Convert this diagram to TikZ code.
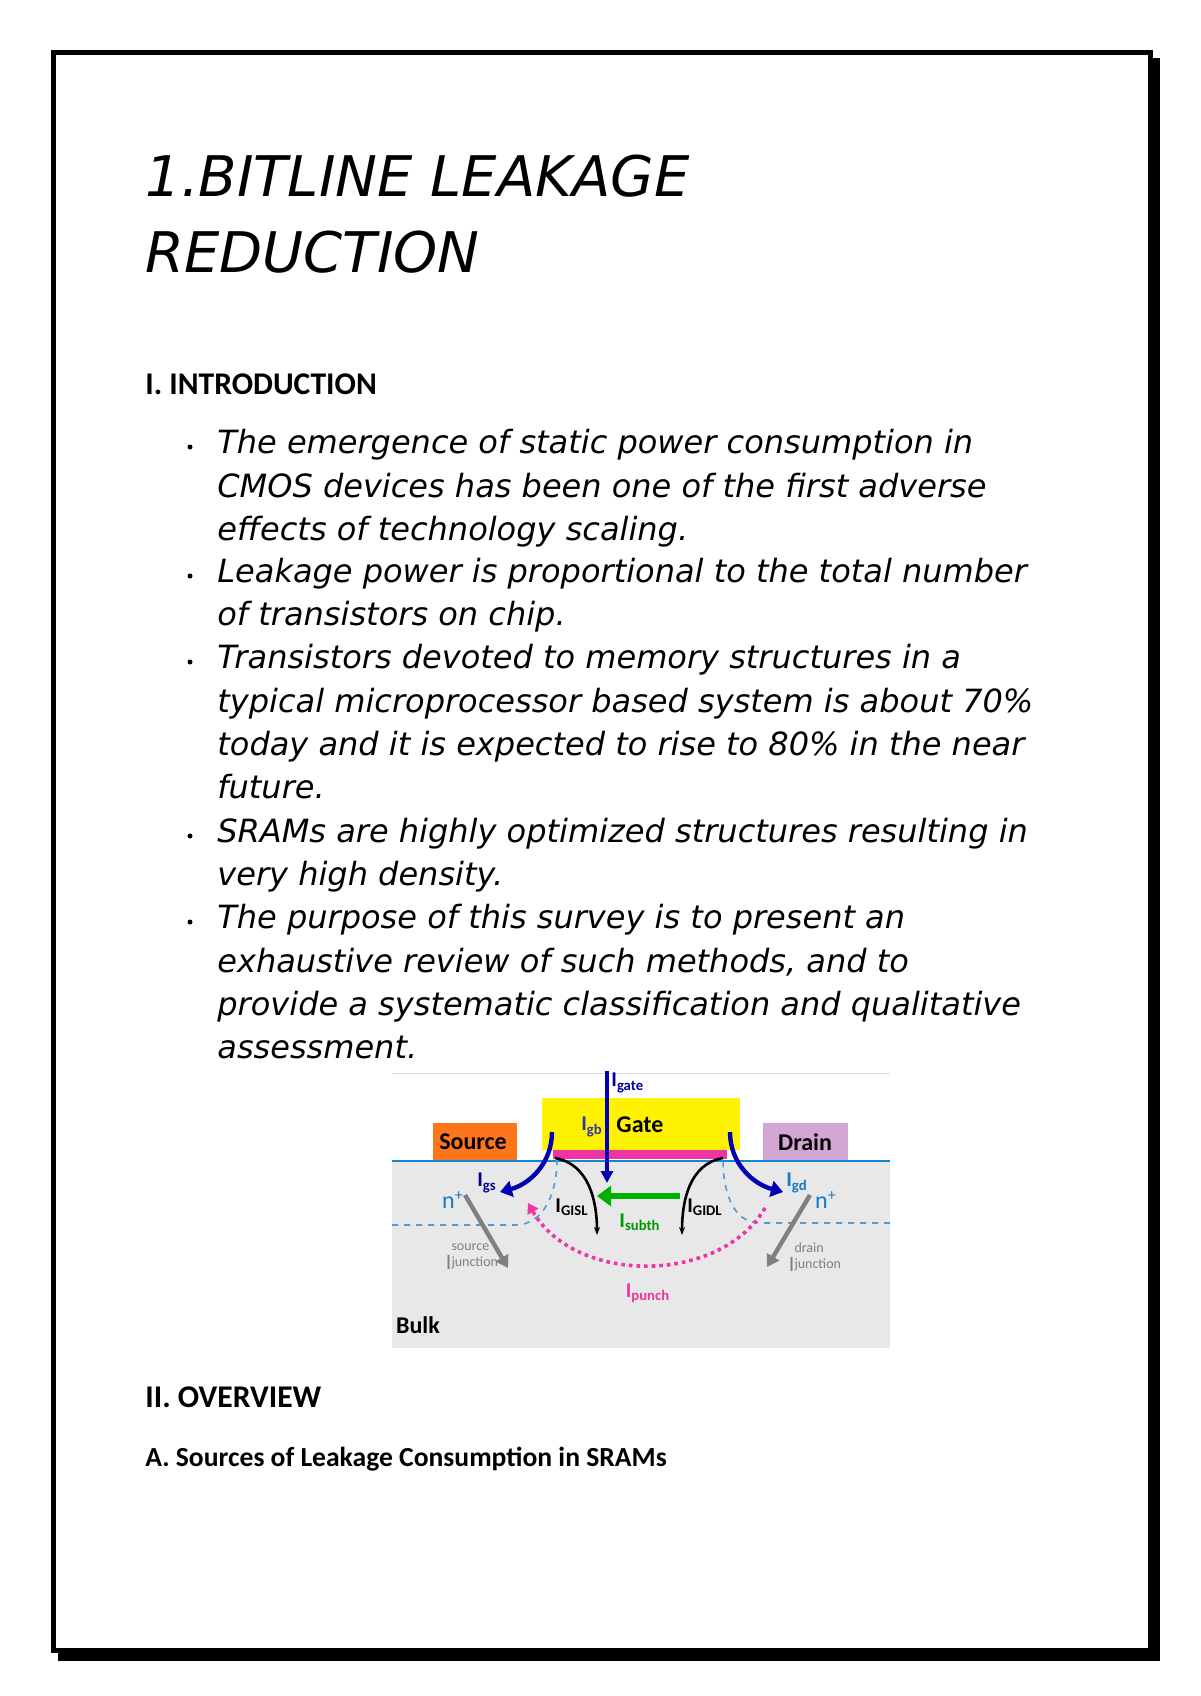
\documentclass[tikz,border=0pt]{standalone}
\usepackage{fontspec}
\setmainfont{DejaVu Sans}
\newfontfamily\calfont{Carlito}
\usetikzlibrary{arrows.meta}
\begin{document}
\begin{tikzpicture}[x=0.5pt,y=-0.5pt,
 body/.style={anchor=base west,inner sep=0,font=\fontsize{16}{18}\selectfont\itshape},
 head/.style={anchor=base west,inner sep=0,font=\calfont\fontsize{15.8}{17}\selectfont\bfseries},
 lab/.style={inner sep=0,font=\calfont\fontsize{10.5}{11}\selectfont\bfseries},
 cur/.style={line width=2.2pt,-{Triangle[length=6pt,width=8pt]}}]
\useasboundingbox (0,0) rectangle (1200,1696);
\fill[white] (0,0) rectangle (1200,1696);
% frame with shadow
\fill[black] (58,58) rectangle (1160,1661);
\fill[white] (53,53) rectangle (1150,1650);
\draw[line width=2.5pt] (53,53) rectangle (1150,1650);
% title
\node[anchor=base west,inner sep=0,font=\fontsize{28}{32}\selectfont\itshape] (t1) at (145,197) {1.BITLINE LEAKAGE};
\node[anchor=base west,inner sep=0,font=\fontsize{28}{32}\selectfont\itshape] (t2) at (145,272) {REDUCTION};
\node[head] (h1) at (145,394) {I. INTRODUCTION};
\foreach \y/\t in {443/The emergence of static power consumption in,487/CMOS devices has been one of the first adverse,530/effects of technology scaling.,572/Leakage power is proportional to the total number,615/of transistors on chip.,658/Transistors devoted to memory structures in a,702/typical microprocessor based system is about 70\%,745/today and it is expected to rise to 80\% in the near,788/future.,832/SRAMs are highly optimized structures resulting in,875/very high density.,918/The purpose of this survey is to present an,962/exhaustive review of such methods{,} and to,1005/provide a systematic classification and qualitative,1048/assessment.}
  \node[body] at (217,\y+10) {\t};
\foreach \y in {443,572,658,832,918}
  \fill (190,\y+4) circle (2.5);
\node[head] (h2) at (145,1407) {II. OVERVIEW};
\node[head,font=\calfont\fontsize{13.8}{14}\selectfont\bfseries] (h3) at (145,1466) {A. Sources of Leakage Consumption in SRAMs};
% figure
\draw[gray!30] (392,1073) -- (890,1073);
\fill[gray!18] (392,1161) rectangle (890,1348);
\fill[orange!80!red!90] (433,1123) rectangle (517,1160);
\fill[violet!35] (763,1123) rectangle (848,1160);
\fill[yellow] (542,1098) rectangle (740,1150);
\fill[magenta!80] (553,1150) rectangle (727,1159);
\draw[cyan!70!blue,line width=1.2pt] (392,1161) -- (890,1161);
\node[lab,font=\calfont\fontsize{12}{12}\selectfont\bfseries] (src) at (473,1142) {Source};
\node[lab,font=\calfont\fontsize{12}{12}\selectfont\bfseries] (drn) at (805,1142) {Drain};
\node[lab,font=\calfont\fontsize{12}{12}\selectfont\bfseries] (gt) at (640,1125) {Gate};
\node[lab,font=\calfont\fontsize{12}{12}\selectfont\bfseries] at (418,1325) {Bulk};
% dashed junction
\draw[cyan!60!blue!70,dashed,thick] (392,1225) -- (515,1225) to[out=0,in=270] (557,1160);
\draw[cyan!60!blue!70,dashed,thick] (890,1223) -- (760,1223) to[out=180,in=270] (723,1160);
% currents
\coordinate (gtop) at (607,1071);
\coordinate (gbot) at (607,1183);
\draw[blue!70!black,line width=1.6pt,-{Triangle[length=6pt,width=6pt]}] (gtop) -- (gbot);
\node[lab,anchor=west,text=blue!60!black] at (611,1083) {I\textsubscript{gate}};
\node[lab,text=blue!60!black!80] at (592,1127) {I\textsubscript{gb}};
\coordinate (gsS) at (552,1132); \coordinate (gsE) at (500,1192);
\draw[cur,blue!70!black] (gsS) to[out=270,in=15] (gsE);
\coordinate (gdS) at (730,1132); \coordinate (gdE) at (783,1192);
\draw[cur,blue!70!black] (gdS) to[out=270,in=165] (gdE);
\node[lab,text=blue!60!black] at (487,1183) {I\textsubscript{gs}};
\node[lab,text=cyan!60!blue] at (797,1183) {I\textsubscript{gd}};
\node[lab,text=cyan!60!blue,font=\calfont\fontsize{12}{12}\selectfont] at (453,1200) {n\textsuperscript{+}};
\node[lab,text=cyan!60!blue,font=\calfont\fontsize{12}{12}\selectfont] at (826,1200) {n\textsuperscript{+}};
\coordinate (isS) at (555,1158); \coordinate (isE) at (597,1235);
\draw[black,line width=1.3pt,-{Stealth[length=4pt]}] (isS) to[out=-10,in=90] (isE);
\coordinate (idS) at (723,1158); \coordinate (idE) at (682,1235);
\draw[black,line width=1.3pt,-{Stealth[length=4pt]}] (idS) to[out=190,in=90] (idE);
\node[lab] at (572,1207) {I\textsubscript{GISL}};
\node[lab] at (705,1207) {I\textsubscript{GIDL}};
\coordinate (sbS) at (680,1196); \coordinate (sbE) at (597,1196);
\draw[green!70!black,line width=3pt,-{Triangle[length=7pt,width=10pt]}] (sbS) -- (sbE);
\node[lab,text=green!60!black] at (640,1222) {I\textsubscript{subth}};
\coordinate (ppS) at (765,1208); \coordinate (ppE) at (528,1203);
\draw[magenta!80,line width=1.8pt,dotted,-{Triangle[length=5pt,width=6pt]}] (ppS) .. controls (720,1285) and (575,1285) .. (ppE);
\node[lab,text=magenta!80] at (648,1293) {I\textsubscript{punch}};
\coordinate (jsS) at (465,1195); \coordinate (jsE) at (508,1268);
\draw[gray,line width=2.2pt,-{Triangle[length=6pt,width=7pt]}] (jsS) -- (jsE);
\coordinate (jdS) at (810,1195); \coordinate (jdE) at (767,1267);
\draw[gray,line width=2.2pt,-{Triangle[length=6pt,width=7pt]}] (jdS) -- (jdE);
\node[lab,text=gray,font=\calfont\fontsize{11}{10}\selectfont] at (472,1257) {I\raisebox{0.3ex}{\fontsize{7}{7}\selectfont\shortstack[l]{source\\junction}}};
\node[lab,text=gray,font=\calfont\fontsize{11}{10}\selectfont] at (815,1257) {I\raisebox{0.3ex}{\fontsize{7}{7}\selectfont\shortstack[l]{drain\\junction}}};
\end{tikzpicture}
\end{document}
